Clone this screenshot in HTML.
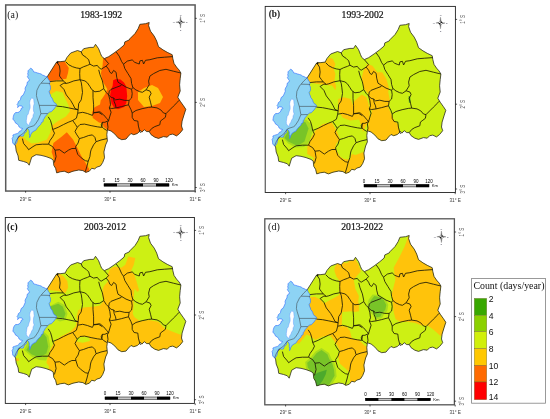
<!DOCTYPE html>
<html><head><meta charset="utf-8"><title>Count (days/year) maps</title>
<style>html,body{margin:0;padding:0;background:#fff}svg{display:block}</style></head>
<body>
<svg width="550" height="419" viewBox="0 0 550 419">
<defs>
<clipPath id="cp"><path d="M47.2,76.8 L56.4,62.3 L57.2,61.6 L60.1,61.7 L65.1,61.1 L67.0,57.4 L70.7,53.0 L77.5,50.5 L81.2,51.8 L83.7,48.7 L89.9,47.4 L93.6,47.4 L95.5,44.3 L98.6,48.7 L100.5,53.6 L101.7,56.4 L104.3,58.6 L108.6,56.7 L114.9,52.4 L119.8,48.7 L124.2,45.0 L124.8,41.9 L129.1,40.0 L130.0,38.6 L135.0,33.6 L138.1,28.7 L139.9,24.3 L145.5,23.7 L149.2,22.5 L148.6,25.6 L150.5,31.2 L154.2,36.1 L156.7,41.1 L158.5,46.7 L162.9,49.8 L167.2,52.3 L172.2,54.7 L172.8,58.5 L174.0,63.4 L176.5,67.1 L179.0,69.9 L180.9,73.0 L180.2,78.6 L179.6,84.8 L180.2,91.0 L177.8,97.2 L180.2,101.2 L183.3,105.5 L185.8,109.3 L184.0,114.9 L182.1,121.1 L181.5,126.0 L182.7,129.7 L179.6,133.5 L176.5,135.9 L172.8,134.1 L169.7,134.7 L167.2,137.2 L163.5,136.6 L158.5,138.4 L154.8,137.2 L151.1,134.7 L149.2,131.6 L146.7,131.6 L144.3,129.7 L141.8,132.2 L140.5,130.4 L137.4,133.5 L133.7,134.7 L131.0,133.5 L128.5,136.0 L126.0,139.1 L121.7,139.7 L118.0,137.8 L114.9,134.1 L111.1,131.0 L107.4,129.8 L106.8,134.7 L107.4,140.9 L105.6,145.0 L103.9,152.0 L104.5,157.8 L102.7,162.5 L100.4,166.0 L96.9,167.1 L94.6,168.9 L91.7,168.3 L89.3,171.2 L85.8,172.4 L82.9,170.6 L78.8,170.0 L73.0,171.2 L68.4,172.9 L64.3,171.2 L60.2,171.8 L56.7,172.9 L55.6,168.3 L53.8,165.4 L53.2,160.1 L50.9,158.4 L46.0,156.6 L41.0,155.3 L36.1,154.7 L31.7,157.2 L30.5,160.9 L29.2,165.2 L27.4,162.8 L23.6,161.5 L18.7,160.3 L18.1,155.9 L16.2,151.0 L15.6,146.0 L14.6,144.5 L16.5,140.0 L19.3,136.0 L23.2,133.5 L27.7,127.7 L33.5,125.8 L35.1,124.6 L38.4,119.6 L40.9,113.7 L39.3,105.4 L37.2,98.7 L36.4,95.5 L36.9,90.3 L39.5,85.0 L44.0,79.8 L47.2,76.8Z"/></clipPath>
<path id="ol" d="M47.2,76.8 L56.4,62.3 L57.2,61.6 L60.1,61.7 L65.1,61.1 L67.0,57.4 L70.7,53.0 L77.5,50.5 L81.2,51.8 L83.7,48.7 L89.9,47.4 L93.6,47.4 L95.5,44.3 L98.6,48.7 L100.5,53.6 L101.7,56.4 L104.3,58.6 L108.6,56.7 L114.9,52.4 L119.8,48.7 L124.2,45.0 L124.8,41.9 L129.1,40.0 L130.0,38.6 L135.0,33.6 L138.1,28.7 L139.9,24.3 L145.5,23.7 L149.2,22.5 L148.6,25.6 L150.5,31.2 L154.2,36.1 L156.7,41.1 L158.5,46.7 L162.9,49.8 L167.2,52.3 L172.2,54.7 L172.8,58.5 L174.0,63.4 L176.5,67.1 L179.0,69.9 L180.9,73.0 L180.2,78.6 L179.6,84.8 L180.2,91.0 L177.8,97.2 L180.2,101.2 L183.3,105.5 L185.8,109.3 L184.0,114.9 L182.1,121.1 L181.5,126.0 L182.7,129.7 L179.6,133.5 L176.5,135.9 L172.8,134.1 L169.7,134.7 L167.2,137.2 L163.5,136.6 L158.5,138.4 L154.8,137.2 L151.1,134.7 L149.2,131.6 L146.7,131.6 L144.3,129.7 L141.8,132.2 L140.5,130.4 L137.4,133.5 L133.7,134.7 L131.0,133.5 L128.5,136.0 L126.0,139.1 L121.7,139.7 L118.0,137.8 L114.9,134.1 L111.1,131.0 L107.4,129.8 L106.8,134.7 L107.4,140.9 L105.6,145.0 L103.9,152.0 L104.5,157.8 L102.7,162.5 L100.4,166.0 L96.9,167.1 L94.6,168.9 L91.7,168.3 L89.3,171.2 L85.8,172.4 L82.9,170.6 L78.8,170.0 L73.0,171.2 L68.4,172.9 L64.3,171.2 L60.2,171.8 L56.7,172.9 L55.6,168.3 L53.8,165.4 L53.2,160.1 L50.9,158.4 L46.0,156.6 L41.0,155.3 L36.1,154.7 L31.7,157.2 L30.5,160.9 L29.2,165.2 L27.4,162.8 L23.6,161.5 L18.7,160.3 L18.1,155.9 L16.2,151.0 L15.6,146.0 L14.6,144.5 L16.5,140.0 L19.3,136.0 L23.2,133.5 L27.7,127.7 L33.5,125.8 L35.1,124.6 L38.4,119.6 L40.9,113.7 L39.3,105.4 L37.2,98.7 L36.4,95.5 L36.9,90.3 L39.5,85.0 L44.0,79.8 L47.2,76.8Z"/>
<path id="dl" d="M57.0,62.3 L59.5,66.1 L60.1,71.0 L59.5,76.0 L61.4,78.5 L63.2,80.9 M65.7,61.7 L68.8,64.8 L72.5,66.7 L76.3,67.9 L80.0,68.5 L83.7,66.7 L87.4,65.4 L89.9,64.2 M49.6,81.6 L56.4,80.9 L63.2,80.9 L66.3,83.4 L68.8,82.8 L73.8,80.9 L80.0,79.7 L84.9,80.9 L87.4,82.8 L89.9,86.5 L91.8,89.6 L93.0,90.5 L94.9,91.8 L99.8,91.2 L103.7,88.6 M66.3,83.4 L63.9,83.1 L60.1,85.5 L63.9,89.3 L66.3,94.9 L70.7,100.5 L73.2,104.8 L75.0,108.5 L78.1,109.8 M80.0,68.5 L79.7,73.5 L80.0,79.7 L81.2,82.2 L81.8,86.2 L82.5,92.4 L81.2,99.9 L78.7,103.6 L78.1,109.8 M81.2,51.8 L82.5,54.9 L86.2,57.4 L88.7,59.9 L89.9,64.2 L93.6,66.1 L97.3,65.4 L99.2,67.9 L101.2,69.2 L106.2,66.1 L108.6,63.6 L104.3,58.6 M98.7,69.8 L100.0,74.7 L102.4,80.9 L103.7,87.1 L103.7,88.6 L106.2,92.4 L108.6,94.9 M106.2,66.1 L108.6,69.2 L109.9,72.3 L111.7,73.5 L113.6,70.4 L116.1,72.3 L116.7,77.2 L118.0,82.2 L121.7,84.5 L126.0,87.1 L131.6,89.3 M116.1,51.8 L119.2,56.1 L121.7,61.7 L123.5,64.2 L127.3,61.1 L132.2,59.9 L134.7,62.3 L137.8,63.5 L139.3,64.0 L139.9,60.9 L142.4,60.3 L143.6,64.0 L145.5,60.3 L149.9,59.7 L157.3,57.8 L164.7,57.2 L172.8,56.6 M123.5,64.2 L124.8,68.5 L127.9,73.5 L131.0,78.5 L131.6,83.4 L132.8,87.4 L131.6,89.3 M132.8,87.4 L135.9,89.9 L139.7,91.7 L142.4,92.3 L146.1,89.8 L149.2,84.8 L148.6,81.1 L149.9,76.1 L153.6,73.6 L159.8,70.5 L166.0,69.3 L173.4,71.2 L180.9,73.0 M146.1,89.8 L149.9,91.0 L151.1,93.5 L149.2,97.2 L150.5,102.2 L151.7,107.1 M132.2,113.0 L135.9,110.5 L142.1,108.7 L148.3,107.4 L151.7,107.1 L157.0,107.9 L160.8,109.9 L163.5,113.0 L166.0,113.6 L169.7,109.9 L173.4,106.2 L177.8,101.8 L179.6,100.0 M166.0,113.6 L165.4,117.3 L162.9,119.2 L160.4,121.1 L159.8,124.8 L154.8,126.6 L151.7,128.5 L149.2,131.6 M132.2,113.0 L132.2,117.4 L134.1,120.5 L137.8,121.1 L138.4,126.1 L139.7,131.0 L140.5,132.9 M131.6,89.3 L132.2,93.6 L131.6,98.0 L129.1,100.4 L128.5,104.8 L131.0,109.7 L132.2,113.0 M108.6,94.9 L109.3,91.1 L111.1,89.3 L116.1,87.4 L121.1,85.5 L121.7,84.5 M108.6,94.9 L111.1,97.3 L113.6,98.0 L115.5,99.8 L119.8,99.2 L124.8,100.4 L129.1,100.4 M108.6,94.9 L109.9,99.8 L110.5,104.8 L109.3,107.9 L111.7,108.5 L116.1,107.9 L121.7,106.6 L126.0,105.4 L128.5,104.8 M113.6,98.0 L114.2,101.7 L115.5,104.8 L116.1,107.9 M109.3,107.9 L111.1,112.2 L109.9,116.1 L108.6,120.5 L107.4,122.9 L108.0,127.3 L107.4,129.8 M108.6,120.5 L104.9,122.3 L102.4,122.3 L101.2,124.8 L101.8,126.7 L103.7,128.5 L106.8,130.5 M93.6,112.6 L100.0,111.8 L103.7,114.9 L106.8,118.6 L108.6,120.5 M93.0,90.5 L93.0,97.4 L93.6,104.8 L93.6,112.9 L92.4,115.4 L87.4,113.5 L82.7,112.3 L77.7,113.2 M93.6,112.9 L98.6,112.3 L102.3,114.7 M56.4,106.1 L62.6,106.7 L68.8,107.9 L75.0,109.2 L78.1,109.8 L77.7,113.2 L76.4,118.2 L72.7,120.5 L68.2,122.3 L63.6,124.5 L58.2,127.3 L52.7,129.5 L51.8,125.0 L50.5,120.5 L48.2,116.8 M77.3,127.3 L80.0,124.5 L84.5,124.1 L91.1,125.6 L97.3,126.8 L101.7,127.4 L102.3,123.7 L102.4,122.3 M72.7,120.5 L75.5,124.5 L77.3,127.3 L75.0,131.4 L76.4,134.1 L79.4,138.6 L78.1,143.0 L75.6,146.7 L75.9,148.5 L71.9,148.5 L68.4,150.2 L64.3,153.1 L59.6,149.7 L55.0,150.2 L52.7,146.7 L48.5,144.2 L50.0,140.5 L52.7,136.8 L54.5,133.2 L52.7,129.5 M75.9,148.5 L77.7,154.3 L81.2,157.8 L85.3,160.7 L88.2,161.3 L87.0,166.0 L85.3,171.8 M55.0,150.2 L56.1,156.6 L54.4,162.5 M88.2,161.3 L89.9,156.6 L90.5,152.0 L91.1,149.8 L93.6,144.8 L96.1,141.7 L101.0,140.0 L107.0,138.6 M79.4,138.6 L83.7,137.4 L88.7,135.5 L92.4,134.9 L94.9,137.4 L96.1,141.7 M22.4,138.6 L23.6,143.5 L27.4,147.9 L28.6,149.7 L33.0,146.6 L36.1,144.8 L42.3,144.2 L48.5,144.2"/>
<g id="lake">
<path d="M30.6,68.2 L32.1,69.1 L33.0,70.5 L33.7,71.9 L35.8,72.4 L37.6,73.0 L39.5,73.5 L41.1,74.0 L42.4,75.0 L44.0,75.6 L45.5,76.4 L47.2,76.8 L48.3,79.3 L49.4,80.7 L50.0,82.3 L49.3,84.3 L50.3,85.8 L50.5,87.8 L50.3,89.7 L49.1,91.5 L49.6,93.5 L50.4,95.0 L50.8,96.7 L52.0,98.0 L52.7,99.5 L53.2,101.1 L54.0,102.5 L55.7,103.4 L56.7,105.0 L55.0,107.5 L54.0,109.0 L52.6,110.2 L51.5,111.6 L49.4,112.1 L47.7,113.5 L46.5,115.1 L45.2,116.5 L44.3,118.3 L43.2,119.7 L43.1,121.6 L41.4,122.5 L40.9,124.2 L39.2,125.8 L37.6,127.5 L36.7,128.8 L35.8,130.2 L34.2,130.9 L32.2,132.2 L30.9,134.2 L30.3,135.9 L29.6,137.6 L29.7,135.5 L29.2,133.4 L29.3,131.2 L28.4,129.2 L27.1,128.4 L26.4,130.0 L26.3,131.7 L24.6,132.8 L23.8,134.6 L23.4,135.9 L21.7,136.2 L20.0,135.7 L18.4,136.3 L17.5,139.2 L17.2,140.9 L16.7,142.6 L15.0,145.0 L12.9,143.4 L12.5,141.7 L12.5,140.0 L12.1,138.4 L13.2,136.9 L12.9,135.0 L14.4,134.4 L16.0,133.9 L17.5,133.4 L18.7,132.7 L19.4,131.3 L20.9,130.9 L21.7,129.7 L22.5,128.4 L20.5,128.0 L19.2,127.0 L18.5,125.5 L17.5,124.2 L15.4,122.9 L15.0,121.4 L13.8,120.4 L12.9,119.1 L13.2,117.6 L13.4,116.2 L14.2,114.1 L15.5,112.6 L17.5,112.5 L19.0,112.1 L20.0,111.1 L20.9,110.0 L21.3,108.2 L23.0,107.5 L21.7,105.9 L19.6,105.8 L17.5,107.5 L18.1,105.9 L17.1,104.5 L18.0,103.2 L18.4,101.6 L19.6,100.7 L20.5,99.5 L20.8,97.8 L21.4,96.3 L23.0,95.3 L23.8,93.7 L24.6,92.0 L25.3,90.3 L25.1,88.3 L25.8,86.6 L26.9,85.0 L27.1,83.5 L27.4,82.0 L28.8,81.1 L29.5,79.8 L28.4,78.3 L27.4,76.6 L28.2,75.2 L27.7,73.7 L28.1,72.3 L28.0,70.8 L29.3,69.5Z" fill="#8dd3f4" stroke="#3b78ff" stroke-width="0.7" stroke-linejoin="round"/>
<path d="M31.7,97.8 L33.8,99.1 L33.9,101.4 L34.2,103.7 L33.5,106.2 L33.4,108.7 L33.5,110.9 L34.2,112.9 L33.1,114.9 L33.0,117.1 L31.7,119.0 L30.9,121.2 L29.6,123.1 L29.2,125.4 L27.6,124.6 L26.4,122.7 L26.3,120.4 L26.7,117.9 L27.1,115.4 L28.3,113.9 L28.7,112.1 L29.2,110.4 L30.1,108.0 L30.1,105.4 L29.6,102.9 L30.1,100.4Z" fill="#fff" stroke="#5f95ff" stroke-width="0.45"/>
<path d="M47.2,76.8 L44.0,79.8 L39.5,85.0 L36.9,90.3 L36.4,95.5 L37.2,98.7 L39.3,105.4 L40.9,113.7 L38.4,119.6 L35.1,124.6 L33.5,125.8 L27.7,127.7 L23.2,133.5 L19.3,136.0 L16.5,140.0 L14.6,144.5" fill="none" stroke="#333" stroke-width="0.5"/>
<path d="M41.2,83.2 L50,83.4 M39.3,105.4 L56.5,105.4 M40.9,113.7 L47.7,113.5" fill="none" stroke="#333" stroke-width="0.5"/>
</g>
</defs>
<g transform="translate(0,0)">
<rect x="5.7" y="4.95" width="189.4" height="186.1" fill="#fff" stroke="#5a5a5a" stroke-width="1.5"/>
<g clip-path="url(#cp)">
<rect x="0" y="10" width="200" height="175" fill="#ffc30b"/>
<path d="M103.3,56.0 L102.5,66.3 L100.9,72.9 L102.5,81.1 L107.4,89.3 L105.0,94.3 L101.7,99.2 L100.8,100.0 L100.0,104.5 L94.6,107.2 L91.9,112.5 L92.8,117.9 L99.0,122.4 L102.6,123.3 L103.5,126.8 L107.1,129.5 L108.0,145.0 L200.0,145.0 L200.0,10.0 L103.0,10.0Z" fill="#ff6600"/>
<path d="M47.4,75.4 L56.4,62.2 L59.0,59.0 L64.7,61.4 L68.8,68.0 L68.0,72.9 L66.3,78.7 L56.4,80.3 L49.9,81.1 L44.0,80.0Z" fill="#ff6600"/>
<path d="M66.8,132.2 L73.0,139.4 L76.7,146.5 L81.1,155.5 L86.5,164.4 L89.2,168.9 L89.0,176.0 L50.0,176.0 L54.3,166.2 L53.4,157.2 L51.6,151.9 L53.4,142.9 L61.5,136.7Z" fill="#ff6600"/>
<path d="M50.7,94.3 L56.4,91.0 L63.0,92.6 L64.3,96.6 L68.4,104.9 L70.0,111.4 L65.9,116.4 L57.7,121.3 L51.9,125.4 L50.3,132.8 L47.0,139.4 L38.0,142.7 L31.4,143.5 L25.6,139.4 L20.0,134.0 L30.0,120.0 L40.0,100.0Z" fill="#cdf014"/>
<path d="M113.2,80.2 L116.0,79.0 L120.5,79.6 L124.0,82.5 L126.3,86.5 L127.2,96.0 L126.3,103.0 L124.2,107.0 L118.0,109.3 L114.0,107.5 L111.5,103.5 L110.0,96.0 L110.8,90.0 L112.6,86.0Z" fill="#ff0000"/>
<path d="M138.0,92.0 L144.0,88.0 L152.0,85.0 L158.0,88.0 L163.0,97.0 L160.0,103.0 L152.0,106.0 L144.0,107.0 L138.0,100.0Z" fill="#ffc30b"/>
</g>
<use href="#dl" fill="none" stroke="#1c1a06" stroke-width="0.85" stroke-linejoin="round"/>
<use href="#ol" fill="none" stroke="#2a2a20" stroke-width="0.8" stroke-linejoin="round"/>
<use href="#lake"/>
<path d="M56.2,62.6 L57.8,61.2 L58.6,62.2 L57.4,63.4Z" fill="#111"/>
<text x="101.2" y="17.7" font-family="Liberation Serif, serif" font-size="9.7" text-anchor="middle" fill="#151515" stroke="#151515" stroke-width="0.22">1983-1992</text>
<text x="7.3" y="17.7" font-family="Liberation Serif, serif" font-size="9.8" font-weight="normal" fill="#151515">(a)</text>
<g transform="translate(0,0)">
<rect x="104" y="183.8" width="65" height="2.3" fill="#c4c4c4" stroke="#000" stroke-width="0.5"/>
<rect x="104" y="183.55" width="13" height="2.8" fill="#000"/>
<rect x="130" y="183.55" width="13" height="2.8" fill="#000"/>
<rect x="156" y="183.55" width="13" height="2.8" fill="#000"/>
<text x="104" y="181.8" font-family="Liberation Sans, sans-serif" font-size="4.5" text-anchor="middle" fill="#000">0</text>
<text x="117" y="181.8" font-family="Liberation Sans, sans-serif" font-size="4.5" text-anchor="middle" fill="#000">15</text>
<text x="130" y="181.8" font-family="Liberation Sans, sans-serif" font-size="4.5" text-anchor="middle" fill="#000">30</text>
<text x="143" y="181.8" font-family="Liberation Sans, sans-serif" font-size="4.5" text-anchor="middle" fill="#000">60</text>
<text x="156" y="181.8" font-family="Liberation Sans, sans-serif" font-size="4.5" text-anchor="middle" fill="#000">90</text>
<text x="169" y="181.8" font-family="Liberation Sans, sans-serif" font-size="4.5" text-anchor="middle" fill="#000">120</text>
<text x="171.8" y="186.3" font-family="Liberation Sans, sans-serif" font-size="4.2" fill="#111">Km</text>
</g>
<path d="M25.6,191.0 V192.7" stroke="#111" stroke-width="0.7"/>
<text x="25.6" y="200.6" font-family="Liberation Sans, sans-serif" font-size="5.6" text-anchor="middle" textLength="11.6" lengthAdjust="spacingAndGlyphs" fill="#3a3a3a">29° E</text>
<path d="M110,191.0 V192.7" stroke="#111" stroke-width="0.7"/>
<text x="110" y="200.6" font-family="Liberation Sans, sans-serif" font-size="5.6" text-anchor="middle" textLength="11.6" lengthAdjust="spacingAndGlyphs" fill="#3a3a3a">30° E</text>
<path d="M195.2,191.0 V192.7" stroke="#111" stroke-width="0.7"/>
<text x="195.2" y="200.6" font-family="Liberation Sans, sans-serif" font-size="5.6" text-anchor="middle" textLength="11.6" lengthAdjust="spacingAndGlyphs" fill="#3a3a3a">31° E</text>
<path d="M195.1,18.35 H196.8" stroke="#111" stroke-width="0.7"/>
<text transform="translate(204.9,18.35) rotate(-90)" font-family="Liberation Sans, sans-serif" font-size="6.4" text-anchor="middle" textLength="8.8" lengthAdjust="spacingAndGlyphs" fill="#555">1° S</text>
<path d="M195.1,102.4 H196.8" stroke="#111" stroke-width="0.7"/>
<text transform="translate(204.9,102.4) rotate(-90)" font-family="Liberation Sans, sans-serif" font-size="6.4" text-anchor="middle" textLength="8.8" lengthAdjust="spacingAndGlyphs" fill="#555">2° S</text>
<path d="M195.1,187.5 H196.8" stroke="#111" stroke-width="0.7"/>
<text transform="translate(204.9,187.5) rotate(-90)" font-family="Liberation Sans, sans-serif" font-size="6.4" text-anchor="middle" textLength="8.8" lengthAdjust="spacingAndGlyphs" fill="#555">3° S</text>
<g transform="translate(180.5,22.2)">
<path d="M0,-5.8 L0.8,-0.8 L4.6,0 L0.8,0.8 L0,5.8 L-0.8,0.8 L-4.6,0 L-0.8,-0.8Z" fill="#fff" stroke="#555" stroke-width="0.3"/>
<path d="M0,-5.8 L0.8,-0.8 L0,0Z M4.6,0 L0.8,0.8 L0,0Z M0,5.8 L-0.8,0.8 L0,0Z M-4.6,0 L-0.8,-0.8 L0,0Z" fill="#222"/>
<path d="M0,-2.3 L2.3,0 L0,2.3 L-2.3,0Z" fill="#fff" stroke="#333" stroke-width="0.3"/>
<path d="M0,0 L0,-2.3 L2.3,0Z M0,0 L0,2.3 L-2.3,0Z" fill="#111"/>
<text x="0" y="-6.6" font-family="Liberation Sans, sans-serif" font-size="2.4" text-anchor="middle" fill="#556">N</text>
<text x="6.4" y="0.8" font-family="Liberation Sans, sans-serif" font-size="2.4" text-anchor="middle" fill="#556">E</text>
<text x="0" y="8.6" font-family="Liberation Sans, sans-serif" font-size="2.4" text-anchor="middle" fill="#556">S</text>
<text x="-6.6" y="0.8" font-family="Liberation Sans, sans-serif" font-size="2.4" text-anchor="middle" fill="#556">W</text>
</g>
</g>
<g transform="translate(260,1)">
<rect x="5.2" y="5.4" width="190.2" height="186.1" fill="#fff" stroke="#222" stroke-width="0.9"/>
<g clip-path="url(#cp)">
<rect x="0" y="10" width="200" height="175" fill="#cdf014"/>
<path d="M47.4,75.4 L56.4,62.2 L60.0,58.0 L64.7,61.4 L68.8,56.4 L72.9,58.1 L75.4,63.0 L73.7,68.0 L75.4,72.9 L74.5,79.5 L76.2,85.2 L75.4,89.3 L72.1,84.4 L61.4,83.6 L51.5,81.9 L44.0,80.0Z" fill="#ffc30b"/>
<path d="M107.4,63.0 L112.4,64.7 L117.3,71.3 L122.2,71.3 L126.4,78.1 L129.1,87.2 L128.2,90.8 L130.0,99.9 L128.2,106.3 L130.9,112.6 L134.5,119.9 L138.2,123.5 L140.0,131.7 L138.0,140.0 L108.0,140.0 L107.3,130.8 L109.1,121.7 L111.8,109.9 L110.0,108.1 L109.1,98.1 L108.2,92.6 L103.6,87.2 L101.8,76.3 L103.6,69.0Z" fill="#ffc30b"/>
<path d="M78.2,98.1 L83.6,96.3 L90.9,98.1 L92.7,104.0 L94.5,99.9 L101.8,93.5 L106.4,96.3 L108.2,101.7 L109.5,108.1 L110.0,121.0 L106.4,124.0 L103.0,131.0 L101.0,124.0 L99.1,118.5 L90.0,119.5 L82.7,116.7 L79.1,111.3 L78.2,104.0Z" fill="#ffc30b"/>
<path d="M62.7,123.1 L71.8,121.3 L77.3,131.3 L80.0,138.5 L76.0,143.0 L75.5,147.0 L78.0,152.0 L80.5,156.0 L84.0,158.0 L90.0,158.5 L91.8,153.0 L95.5,154.0 L102.7,151.3 L106.0,152.2 L106.0,175.0 L50.0,176.0 L53.6,156.7 L47.3,153.1 L47.3,145.8 L50.0,138.5 L55.5,129.5Z" fill="#ffc30b"/>
<path d="M46.4,119.0 L51.0,123.0 L52.5,130.0 L49.5,141.0 L44.0,146.0 L35.5,146.5 L28.2,142.4 L22.0,136.0 L30.0,125.0 L40.0,118.0Z" fill="#a8dc1e"/>
<path d="M45.5,121.3 L48.5,127.6 L44.5,140.4 L39.0,144.0 L35.5,144.0 L28.2,140.4 L24.5,136.7 L30.0,127.0 L40.0,120.0Z" fill="#78c428"/>
<path d="M148.5,95.2 L150.2,95.2 L150.6,101.8 L148.9,101.8Z" fill="#4caa2c"/>
</g>
<use href="#dl" fill="none" stroke="#1c1a06" stroke-width="0.85" stroke-linejoin="round"/>
<use href="#ol" fill="none" stroke="#2a2a20" stroke-width="0.8" stroke-linejoin="round"/>
<use href="#lake"/>
<path d="M56.2,62.6 L57.8,61.2 L58.6,62.2 L57.4,63.4Z" fill="#111"/>
<text x="102.6" y="16.7" font-family="Liberation Serif, serif" font-size="9.7" text-anchor="middle" fill="#151515" stroke="#151515" stroke-width="0.22">1993-2002</text>
<text x="8.7" y="16.0" font-family="Liberation Serif, serif" font-size="9.3" font-weight="bold" fill="#151515">(b)</text>
<g transform="translate(0,-0.2)">
<rect x="104" y="183.8" width="65" height="2.3" fill="#c4c4c4" stroke="#000" stroke-width="0.5"/>
<rect x="104" y="183.55" width="13" height="2.8" fill="#000"/>
<rect x="130" y="183.55" width="13" height="2.8" fill="#000"/>
<rect x="156" y="183.55" width="13" height="2.8" fill="#000"/>
<text x="104" y="181.8" font-family="Liberation Sans, sans-serif" font-size="4.5" text-anchor="middle" fill="#000">0</text>
<text x="117" y="181.8" font-family="Liberation Sans, sans-serif" font-size="4.5" text-anchor="middle" fill="#000">15</text>
<text x="130" y="181.8" font-family="Liberation Sans, sans-serif" font-size="4.5" text-anchor="middle" fill="#000">30</text>
<text x="143" y="181.8" font-family="Liberation Sans, sans-serif" font-size="4.5" text-anchor="middle" fill="#000">60</text>
<text x="156" y="181.8" font-family="Liberation Sans, sans-serif" font-size="4.5" text-anchor="middle" fill="#000">90</text>
<text x="169" y="181.8" font-family="Liberation Sans, sans-serif" font-size="4.5" text-anchor="middle" fill="#000">120</text>
<text x="171.8" y="186.3" font-family="Liberation Sans, sans-serif" font-size="4.2" fill="#111">Km</text>
</g>
<path d="M25.6,191.5 V193.2" stroke="#111" stroke-width="0.7"/>
<text x="25.6" y="201.1" font-family="Liberation Sans, sans-serif" font-size="5.6" text-anchor="middle" textLength="11.6" lengthAdjust="spacingAndGlyphs" fill="#3a3a3a">29° E</text>
<path d="M110,191.5 V193.2" stroke="#111" stroke-width="0.7"/>
<text x="110" y="201.1" font-family="Liberation Sans, sans-serif" font-size="5.6" text-anchor="middle" textLength="11.6" lengthAdjust="spacingAndGlyphs" fill="#3a3a3a">30° E</text>
<path d="M195.2,191.5 V193.2" stroke="#111" stroke-width="0.7"/>
<text x="195.2" y="201.1" font-family="Liberation Sans, sans-serif" font-size="5.6" text-anchor="middle" textLength="11.6" lengthAdjust="spacingAndGlyphs" fill="#3a3a3a">31° E</text>
<path d="M195.4,18.4 H197.1" stroke="#111" stroke-width="0.7"/>
<text transform="translate(205.2,18.4) rotate(-90)" font-family="Liberation Sans, sans-serif" font-size="6.4" text-anchor="middle" textLength="8.8" lengthAdjust="spacingAndGlyphs" fill="#555">1° S</text>
<path d="M195.4,103.2 H197.1" stroke="#111" stroke-width="0.7"/>
<text transform="translate(205.2,103.2) rotate(-90)" font-family="Liberation Sans, sans-serif" font-size="6.4" text-anchor="middle" textLength="8.8" lengthAdjust="spacingAndGlyphs" fill="#555">2° S</text>
<path d="M195.4,188.0 H197.1" stroke="#111" stroke-width="0.7"/>
<text transform="translate(205.2,188.0) rotate(-90)" font-family="Liberation Sans, sans-serif" font-size="6.4" text-anchor="middle" textLength="8.8" lengthAdjust="spacingAndGlyphs" fill="#555">3° S</text>
<g transform="translate(180.5,22.0)">
<path d="M0,-5.8 L0.8,-0.8 L4.6,0 L0.8,0.8 L0,5.8 L-0.8,0.8 L-4.6,0 L-0.8,-0.8Z" fill="#fff" stroke="#555" stroke-width="0.3"/>
<path d="M0,-5.8 L0.8,-0.8 L0,0Z M4.6,0 L0.8,0.8 L0,0Z M0,5.8 L-0.8,0.8 L0,0Z M-4.6,0 L-0.8,-0.8 L0,0Z" fill="#222"/>
<path d="M0,-2.3 L2.3,0 L0,2.3 L-2.3,0Z" fill="#fff" stroke="#333" stroke-width="0.3"/>
<path d="M0,0 L0,-2.3 L2.3,0Z M0,0 L0,2.3 L-2.3,0Z" fill="#111"/>
<text x="0" y="-6.6" font-family="Liberation Sans, sans-serif" font-size="2.4" text-anchor="middle" fill="#556">N</text>
<text x="6.4" y="0.8" font-family="Liberation Sans, sans-serif" font-size="2.4" text-anchor="middle" fill="#556">E</text>
<text x="0" y="8.6" font-family="Liberation Sans, sans-serif" font-size="2.4" text-anchor="middle" fill="#556">S</text>
<text x="-6.6" y="0.8" font-family="Liberation Sans, sans-serif" font-size="2.4" text-anchor="middle" fill="#556">W</text>
</g>
</g>
<g transform="translate(0,212)">
<rect x="5.3" y="5.5" width="189.1" height="185.9" fill="#fff" stroke="#222" stroke-width="0.9"/>
<g clip-path="url(#cp)">
<rect x="0" y="10" width="200" height="175" fill="#cdf014"/>
<path d="M48.2,75.5 L57.3,60.0 L63.6,64.5 L67.3,69.1 L68.2,75.5 L65.5,80.9 L58.2,79.1 L50.9,78.2 L44.0,78.0Z" fill="#ffc30b"/>
<path d="M110.0,57.3 L114.5,54.5 L121.3,55.8 L125.3,52.7 L128.3,44.5 L135.3,46.0 L133.8,52.7 L131.0,59.1 L134.0,61.8 L136.4,69.1 L139.1,78.2 L137.3,80.0 L134.5,76.4 L133.6,85.5 L133.6,94.5 L132.7,101.8 L134.5,105.3 L140.0,108.9 L149.1,108.0 L158.2,109.8 L164.5,116.2 L172.7,119.8 L180.0,122.5 L195.0,124.0 L195.0,180.0 L40.0,180.0 L49.1,154.4 L46.4,150.7 L48.2,143.5 L50.9,136.2 L55.5,128.0 L62.7,123.5 L70.0,119.8 L75.5,114.4 L77.3,107.1 L76.4,105.5 L78.2,98.2 L83.6,95.5 L94.5,94.5 L100.0,93.6 L103.6,89.1 L101.8,81.8 L103.6,74.5 L108.2,69.1 L107.3,63.6Z" fill="#ffc30b"/>
<path d="M76.4,126.2 L82.7,124.4 L89.1,125.3 L90.0,128.9 L82.7,130.7 L77.3,129.8Z" fill="#cdf014"/>
<path d="M14.5,146.2 L19.0,146.5 L19.0,149.0 L14.5,149.0Z" fill="#ffc30b"/>
<path d="M48.0,95.0 L58.2,89.8 L64.7,93.0 L67.5,101.8 L65.6,108.0 L60.0,109.5 L53.0,106.0 L48.0,101.0Z" fill="#a8dc1e"/>
<path d="M50.0,94.5 L58.2,91.8 L62.7,94.5 L65.5,101.8 L63.6,106.4 L54.5,103.6 L50.9,98.2Z" fill="#78c428"/>
<path d="M43.6,119.5 L48.5,124.0 L50.3,134.4 L48.5,143.0 L46.0,148.5 L39.1,148.0 L31.8,144.7 L24.0,138.0 L30.0,126.0 L40.0,118.0Z" fill="#a8dc1e"/>
<path d="M43.6,121.6 L46.4,125.3 L48.2,134.4 L46.4,141.6 L39.1,145.3 L31.8,142.5 L26.4,138.0 L32.0,128.0 L40.0,120.0Z" fill="#78c428"/>
</g>
<use href="#dl" fill="none" stroke="#1c1a06" stroke-width="0.85" stroke-linejoin="round"/>
<use href="#ol" fill="none" stroke="#2a2a20" stroke-width="0.8" stroke-linejoin="round"/>
<use href="#lake"/>
<path d="M56.2,62.6 L57.8,61.2 L58.6,62.2 L57.4,63.4Z" fill="#111"/>
<text x="105" y="17.7" font-family="Liberation Serif, serif" font-size="9.7" text-anchor="middle" fill="#151515" stroke="#151515" stroke-width="0.22">2003-2012</text>
<text x="7" y="17.7" font-family="Liberation Serif, serif" font-size="9.6" font-weight="bold" fill="#151515">(c)</text>
<g transform="translate(1,1.2)">
<rect x="104" y="183.8" width="65" height="2.3" fill="#c4c4c4" stroke="#000" stroke-width="0.5"/>
<rect x="104" y="183.55" width="13" height="2.8" fill="#000"/>
<rect x="130" y="183.55" width="13" height="2.8" fill="#000"/>
<rect x="156" y="183.55" width="13" height="2.8" fill="#000"/>
<text x="104" y="181.8" font-family="Liberation Sans, sans-serif" font-size="4.5" text-anchor="middle" fill="#000">0</text>
<text x="117" y="181.8" font-family="Liberation Sans, sans-serif" font-size="4.5" text-anchor="middle" fill="#000">15</text>
<text x="130" y="181.8" font-family="Liberation Sans, sans-serif" font-size="4.5" text-anchor="middle" fill="#000">30</text>
<text x="143" y="181.8" font-family="Liberation Sans, sans-serif" font-size="4.5" text-anchor="middle" fill="#000">60</text>
<text x="156" y="181.8" font-family="Liberation Sans, sans-serif" font-size="4.5" text-anchor="middle" fill="#000">90</text>
<text x="169" y="181.8" font-family="Liberation Sans, sans-serif" font-size="4.5" text-anchor="middle" fill="#000">120</text>
<text x="171.8" y="186.3" font-family="Liberation Sans, sans-serif" font-size="4.2" fill="#111">Km</text>
</g>
<path d="M25.6,191.4 V193.1" stroke="#111" stroke-width="0.7"/>
<text x="25.6" y="201.0" font-family="Liberation Sans, sans-serif" font-size="5.6" text-anchor="middle" textLength="11.6" lengthAdjust="spacingAndGlyphs" fill="#3a3a3a">29° E</text>
<path d="M110,191.4 V193.1" stroke="#111" stroke-width="0.7"/>
<text x="110" y="201.0" font-family="Liberation Sans, sans-serif" font-size="5.6" text-anchor="middle" textLength="11.6" lengthAdjust="spacingAndGlyphs" fill="#3a3a3a">30° E</text>
<path d="M195.2,191.4 V193.1" stroke="#111" stroke-width="0.7"/>
<text x="195.2" y="201.0" font-family="Liberation Sans, sans-serif" font-size="5.6" text-anchor="middle" textLength="11.6" lengthAdjust="spacingAndGlyphs" fill="#3a3a3a">31° E</text>
<path d="M194.4,18.4 H196.1" stroke="#111" stroke-width="0.7"/>
<text transform="translate(204.2,18.4) rotate(-90)" font-family="Liberation Sans, sans-serif" font-size="6.4" text-anchor="middle" textLength="8.8" lengthAdjust="spacingAndGlyphs" fill="#555">1° S</text>
<path d="M194.4,103.0 H196.1" stroke="#111" stroke-width="0.7"/>
<text transform="translate(204.2,103.0) rotate(-90)" font-family="Liberation Sans, sans-serif" font-size="6.4" text-anchor="middle" textLength="8.8" lengthAdjust="spacingAndGlyphs" fill="#555">2° S</text>
<path d="M194.4,187.7 H196.1" stroke="#111" stroke-width="0.7"/>
<text transform="translate(204.2,187.7) rotate(-90)" font-family="Liberation Sans, sans-serif" font-size="6.4" text-anchor="middle" textLength="8.8" lengthAdjust="spacingAndGlyphs" fill="#555">3° S</text>
<g transform="translate(180.7,20.6)">
<path d="M0,-5.8 L0.8,-0.8 L4.6,0 L0.8,0.8 L0,5.8 L-0.8,0.8 L-4.6,0 L-0.8,-0.8Z" fill="#fff" stroke="#555" stroke-width="0.3"/>
<path d="M0,-5.8 L0.8,-0.8 L0,0Z M4.6,0 L0.8,0.8 L0,0Z M0,5.8 L-0.8,0.8 L0,0Z M-4.6,0 L-0.8,-0.8 L0,0Z" fill="#222"/>
<path d="M0,-2.3 L2.3,0 L0,2.3 L-2.3,0Z" fill="#fff" stroke="#333" stroke-width="0.3"/>
<path d="M0,0 L0,-2.3 L2.3,0Z M0,0 L0,2.3 L-2.3,0Z" fill="#111"/>
<text x="0" y="-6.6" font-family="Liberation Sans, sans-serif" font-size="2.4" text-anchor="middle" fill="#556">N</text>
<text x="6.4" y="0.8" font-family="Liberation Sans, sans-serif" font-size="2.4" text-anchor="middle" fill="#556">E</text>
<text x="0" y="8.6" font-family="Liberation Sans, sans-serif" font-size="2.4" text-anchor="middle" fill="#556">S</text>
<text x="-6.6" y="0.8" font-family="Liberation Sans, sans-serif" font-size="2.4" text-anchor="middle" fill="#556">W</text>
</g>
</g>
<g transform="translate(260,213)">
<rect x="4.8" y="5.8" width="189.6" height="186.0" fill="#fff" stroke="#555" stroke-width="1.3"/>
<g clip-path="url(#cp)">
<rect x="0" y="10" width="200" height="175" fill="#cdf014"/>
<path d="M44.0,86.0 L49.5,84.5 L54.5,83.7 L60.4,86.6 L64.0,90.5 L66.0,89.5 L69.1,87.4 L74.0,85.0 L79.3,82.0 L79.5,74.5 L79.1,67.3 L76.4,63.6 L74.5,58.2 L74.5,54.5 L78.0,49.0 L87.3,50.0 L93.6,44.0 L98.2,50.9 L100.9,58.2 L96.4,63.6 L93.8,67.0 L95.3,75.7 L98.9,83.0 L98.2,88.8 L98.9,91.0 L98.9,98.3 L94.0,99.0 L91.6,98.3 L82.2,99.0 L82.0,106.0 L81.6,113.2 L86.4,113.5 L90.0,118.0 L91.8,125.3 L99.1,127.1 L104.5,132.5 L110.0,135.0 L110.0,175.0 L90.0,175.0 L90.0,159.8 L86.4,156.2 L80.0,150.7 L78.2,143.5 L80.0,138.0 L77.3,132.5 L73.6,127.1 L70.0,122.5 L62.7,123.5 L55.5,127.1 L49.1,122.5 L46.4,121.6 L39.1,130.7 L30.0,128.0 L40.0,100.0Z" fill="#ffc30b"/>
<path d="M149.5,18.0 L148.2,23.8 L144.5,33.8 L139.1,44.7 L133.6,54.7 L134.5,61.1 L135.5,66.5 L133.6,73.8 L131.8,81.1 L132.7,87.9 L133.6,98.8 L135.5,106.1 L140.0,108.8 L147.3,108.8 L154.5,109.7 L161.8,112.5 L167.3,112.5 L172.7,116.1 L180.0,122.5 L195.0,125.0 L195.0,18.0Z" fill="#ffc30b"/>
<path d="M112.5,81.5 L119.5,81.9 L125.5,85.8 L128.3,91.8 L127.3,97.8 L123.8,101.8 L122.0,105.3 L115.5,106.5 L112.5,101.8 L108.8,98.0 L107.1,93.0 L108.6,86.8Z" fill="#a8dc1e"/>
<path d="M114.3,83.0 L119.1,83.9 L123.9,87.3 L126.3,92.0 L125.3,96.8 L122.0,100.2 L120.5,103.5 L116.2,104.5 L114.3,100.6 L110.5,96.8 L109.1,93.0 L110.5,87.8Z" fill="#78c428"/>
<path d="M61.5,135.0 L69.0,140.0 L71.2,145.5 L74.2,149.5 L76.0,156.8 L76.6,163.5 L72.8,170.0 L67.0,176.0 L54.0,176.0 L51.5,168.0 L51.0,162.5 L46.0,155.5 L45.2,149.0 L50.5,144.5 L55.5,138.5Z" fill="#a8dc1e"/>
<path d="M61.5,137.1 L67.4,141.3 L69.2,146.1 L72.2,150.3 L74.0,156.8 L74.6,162.8 L71.0,168.8 L66.3,176.0 L56.7,176.0 L53.7,167.6 L53.1,161.6 L47.8,154.4 L47.2,149.7 L51.9,146.1 L56.7,140.1Z" fill="#78c428"/>
<path d="M54.3,161.6 L59.1,159.2 L66.8,156.8 L65.7,161.6 L62.7,167.6 L57.9,174.0 L54.3,170.0Z" fill="#4caa2c"/>
</g>
<use href="#dl" fill="none" stroke="#1c1a06" stroke-width="0.85" stroke-linejoin="round"/>
<use href="#ol" fill="none" stroke="#2a2a20" stroke-width="0.8" stroke-linejoin="round"/>
<use href="#lake"/>
<path d="M56.2,62.6 L57.8,61.2 L58.6,62.2 L57.4,63.4Z" fill="#111"/>
<text x="102.2" y="16.7" font-family="Liberation Serif, serif" font-size="9.7" text-anchor="middle" fill="#151515" stroke="#151515" stroke-width="0.22">2013-2022</text>
<text x="8.1" y="16.7" font-family="Liberation Serif, serif" font-size="10" font-weight="normal" fill="#151515">(d)</text>
<g transform="translate(1.4,1.5)">
<rect x="104" y="183.8" width="65" height="2.3" fill="#c4c4c4" stroke="#000" stroke-width="0.5"/>
<rect x="104" y="183.55" width="13" height="2.8" fill="#000"/>
<rect x="130" y="183.55" width="13" height="2.8" fill="#000"/>
<rect x="156" y="183.55" width="13" height="2.8" fill="#000"/>
<text x="104" y="181.8" font-family="Liberation Sans, sans-serif" font-size="4.5" text-anchor="middle" fill="#000">0</text>
<text x="117" y="181.8" font-family="Liberation Sans, sans-serif" font-size="4.5" text-anchor="middle" fill="#000">15</text>
<text x="130" y="181.8" font-family="Liberation Sans, sans-serif" font-size="4.5" text-anchor="middle" fill="#000">30</text>
<text x="143" y="181.8" font-family="Liberation Sans, sans-serif" font-size="4.5" text-anchor="middle" fill="#000">60</text>
<text x="156" y="181.8" font-family="Liberation Sans, sans-serif" font-size="4.5" text-anchor="middle" fill="#000">90</text>
<text x="169" y="181.8" font-family="Liberation Sans, sans-serif" font-size="4.5" text-anchor="middle" fill="#000">120</text>
<text x="171.8" y="186.3" font-family="Liberation Sans, sans-serif" font-size="4.2" fill="#111">Km</text>
</g>
<path d="M25.6,191.8 V193.5" stroke="#111" stroke-width="0.7"/>
<text x="25.6" y="201.4" font-family="Liberation Sans, sans-serif" font-size="5.6" text-anchor="middle" textLength="11.6" lengthAdjust="spacingAndGlyphs" fill="#3a3a3a">29° E</text>
<path d="M110,191.8 V193.5" stroke="#111" stroke-width="0.7"/>
<text x="110" y="201.4" font-family="Liberation Sans, sans-serif" font-size="5.6" text-anchor="middle" textLength="11.6" lengthAdjust="spacingAndGlyphs" fill="#3a3a3a">30° E</text>
<path d="M195.2,191.8 V193.5" stroke="#111" stroke-width="0.7"/>
<text x="195.2" y="201.4" font-family="Liberation Sans, sans-serif" font-size="5.6" text-anchor="middle" textLength="11.6" lengthAdjust="spacingAndGlyphs" fill="#3a3a3a">31° E</text>
<path d="M194.4,19 H196.1" stroke="#111" stroke-width="0.7"/>
<text transform="translate(204.2,19) rotate(-90)" font-family="Liberation Sans, sans-serif" font-size="6.4" text-anchor="middle" textLength="8.8" lengthAdjust="spacingAndGlyphs" fill="#555">1° S</text>
<path d="M194.4,103.6 H196.1" stroke="#111" stroke-width="0.7"/>
<text transform="translate(204.2,103.6) rotate(-90)" font-family="Liberation Sans, sans-serif" font-size="6.4" text-anchor="middle" textLength="8.8" lengthAdjust="spacingAndGlyphs" fill="#555">2° S</text>
<path d="M194.4,188.2 H196.1" stroke="#111" stroke-width="0.7"/>
<text transform="translate(204.2,188.2) rotate(-90)" font-family="Liberation Sans, sans-serif" font-size="6.4" text-anchor="middle" textLength="8.8" lengthAdjust="spacingAndGlyphs" fill="#555">3° S</text>
<g transform="translate(181.4,23.8)">
<path d="M0,-5.8 L0.8,-0.8 L4.6,0 L0.8,0.8 L0,5.8 L-0.8,0.8 L-4.6,0 L-0.8,-0.8Z" fill="#fff" stroke="#555" stroke-width="0.3"/>
<path d="M0,-5.8 L0.8,-0.8 L0,0Z M4.6,0 L0.8,0.8 L0,0Z M0,5.8 L-0.8,0.8 L0,0Z M-4.6,0 L-0.8,-0.8 L0,0Z" fill="#222"/>
<path d="M0,-2.3 L2.3,0 L0,2.3 L-2.3,0Z" fill="#fff" stroke="#333" stroke-width="0.3"/>
<path d="M0,0 L0,-2.3 L2.3,0Z M0,0 L0,2.3 L-2.3,0Z" fill="#111"/>
<text x="0" y="-6.6" font-family="Liberation Sans, sans-serif" font-size="2.4" text-anchor="middle" fill="#556">N</text>
<text x="6.4" y="0.8" font-family="Liberation Sans, sans-serif" font-size="2.4" text-anchor="middle" fill="#556">E</text>
<text x="0" y="8.6" font-family="Liberation Sans, sans-serif" font-size="2.4" text-anchor="middle" fill="#556">S</text>
<text x="-6.6" y="0.8" font-family="Liberation Sans, sans-serif" font-size="2.4" text-anchor="middle" fill="#556">W</text>
</g>
</g>
<rect x="471.6" y="278.4" width="73.9" height="124.8" fill="#fff" stroke="#808080" stroke-width="0.8"/>
<text x="473.4" y="289.1" font-family="Liberation Serif, serif" font-size="9.9" fill="#111">Count (days/year)</text>
<rect x="474.3" y="298.4" width="12.4" height="16.9" fill="#38a800" stroke="#6b6b2a" stroke-width="0.4"/>
<rect x="474.3" y="315.3" width="12.4" height="16.3" fill="#8bd100" stroke="#6b6b2a" stroke-width="0.4"/>
<rect x="474.3" y="331.6" width="12.4" height="16.9" fill="#d1f00a" stroke="#6b6b2a" stroke-width="0.4"/>
<rect x="474.3" y="348.5" width="12.4" height="16.8" fill="#ffc800" stroke="#6b6b2a" stroke-width="0.4"/>
<rect x="474.3" y="365.3" width="12.4" height="16.7" fill="#ff6a00" stroke="#6b6b2a" stroke-width="0.4"/>
<rect x="474.3" y="382" width="12.4" height="17.7" fill="#ff0000" stroke="#6b6b2a" stroke-width="0.4"/>
<text x="488.8" y="301.6" font-family="Liberation Sans, sans-serif" font-size="8.6" fill="#111">2</text>
<text x="488.8" y="318.5" font-family="Liberation Sans, sans-serif" font-size="8.6" fill="#111">4</text>
<text x="488.8" y="334.8" font-family="Liberation Sans, sans-serif" font-size="8.6" fill="#111">6</text>
<text x="488.8" y="351.7" font-family="Liberation Sans, sans-serif" font-size="8.6" fill="#111">8</text>
<text x="488.8" y="368.5" font-family="Liberation Sans, sans-serif" font-size="8.6" fill="#111">10</text>
<text x="488.8" y="385.2" font-family="Liberation Sans, sans-serif" font-size="8.6" fill="#111">12</text>
<text x="488.8" y="399.6" font-family="Liberation Sans, sans-serif" font-size="8.6" fill="#111">14</text>
</svg>
</body></html>
